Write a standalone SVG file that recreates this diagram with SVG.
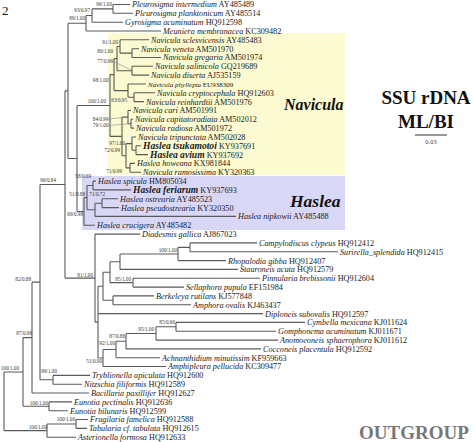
<svg xmlns="http://www.w3.org/2000/svg" width="474" height="442" viewBox="0 0 474 442">
<style>
text{font-family:"Liberation Serif","Times New Roman",serif;fill:#1a1a1a}
.t{font-size:8.2px}
.i{font-style:italic}
.b{font-weight:bold;font-style:italic;font-size:9.6px}
.s{font-size:5.2px;text-anchor:end;fill:#333}
.br{fill:none;stroke:#5a5a5a;stroke-width:1.1}
.ld{fill:none;stroke:#8a8a8a;stroke-width:0.6}
.big{font-weight:bold;font-size:19px;text-anchor:middle;fill:#111}
.clade{font-weight:bold;font-style:italic;fill:#111}
</style>
<rect width="474" height="442" fill="#fff"/>
<rect id="box-navicula" x="108" y="33" width="237" height="142" fill="#FCFAD0"/>
<rect id="box-haslea" x="82" y="176" width="263" height="54" fill="#D9D7F6"/>

<g id="connectors" class="br">
<path d="M4 371.95V430.6M4 371.95H23M4 430.6H47"/>
<path d="M23 337.6V406.3M23 337.6H32M23 406.3H49"/>
<path d="M32 282.15V393M32 282.15H40M32 393H89"/>
<path d="M40 184.5V379.8M40 184.5H65M40 379.8H53"/>
<path d="M53 375.4V384.2M53 375.4H90M53 384.2H82"/>
<path d="M49 401.9V410.7M49 401.9H72M49 410.7H68"/>
<path d="M47 423.95V437.2M47 423.95H76M47 437.2H76"/>
<path d="M76 419.5V428.4M76 419.5H88M76 428.4H87"/>
<path d="M65 90.9V278.1M65 90.9H68M65 278.1H95"/>
<path d="M68 23.3V158.5M68 23.3H86M68 158.5H77"/>
<path d="M86 15.55V31M86 15.55H92M86 31H161"/>
<path d="M92 8.9V22.2M92 8.9H113M92 22.2H123"/>
<path d="M113 4.5V13.3M113 4.5H130M113 13.3H133"/>
<path d="M77 105.5V211.5M77 105.5H110M77 211.5H84"/>
<path d="M110 74.6V136.4M110 74.6H114M110 136.4H122"/>
<path d="M114 58.6V90.6M114 58.6H117M114 90.6H128"/>
<path d="M117 46.45V70.7M117 46.45H120M117 70.7H132"/>
<path d="M120 39.8V53.1M120 39.8H149M120 53.1H132"/>
<path d="M132 48.7V57.5M132 48.7H139M132 57.5H161"/>
<path d="M132 66.3V75.1M132 66.3H153M132 75.1H149"/>
<path d="M128 84V97.2M128 84H146M128 97.2H134"/>
<path d="M134 92.8V101.6M134 92.8H155M134 101.6H144"/>
<path d="M122 117.1V155.7M122 117.1H128M122 155.7H126"/>
<path d="M128 110.5V123.7M128 110.5H131M128 123.7H131"/>
<path d="M131 119.3V128.1M131 119.3H133M131 128.1H134"/>
<path d="M126 143.6V167.85M126 143.6H132M126 167.85H130"/>
<path d="M132 137V150.2M132 137H136M132 150.2H136"/>
<path d="M136 145.8V154.6M136 145.8H141M136 154.6H148"/>
<path d="M130 163.4V172.3M130 163.4H135M130 172.3H141"/>
<path d="M84 197.65V225.3M84 197.65H87M84 225.3H95"/>
<path d="M87 185.5V209.8M87 185.5H93M87 209.8H95"/>
<path d="M93 181.1V189.9M93 181.1H96M93 189.9H131"/>
<path d="M95 203.2V216.4M95 203.2H102M95 216.4H236"/>
<path d="M102 198.8V207.6M102 198.8H118M102 207.6H119"/>
<path d="M95 234.1V322.1M95 234.1H140M95 322.1H98"/>
<path d="M98 286.25V358M98 286.25H103M98 313.6H263M98 358H103"/>
<path d="M103 272.2V300.3M103 272.2H110M103 300.3H113"/>
<path d="M110 261.7V282.65M110 261.7H120M110 282.65H133"/>
<path d="M120 254V269.4M120 254H178M120 269.4H238"/>
<path d="M178 247.35V260.6M178 247.35H190M178 260.6H226"/>
<path d="M190 242.9V251.8M190 242.9H257M190 251.8H338"/>
<path d="M133 278.2V287.1M133 278.2H260M133 287.1H184"/>
<path d="M113 295.9V304.7M113 295.9H154M113 304.7H191"/>
<path d="M103 349.45V366.5M103 349.45H116M103 366.5H166"/>
<path d="M116 341.2V357.7M116 341.2H126M116 357.7H160"/>
<path d="M126 333.45V348.9M126 333.45H156M126 348.9H261"/>
<path d="M156 326.8V340.1M156 326.8H176M156 340.1H278"/>
<path d="M176 322.4V331.2M176 322.4H305M176 331.2H276"/>
<path class="ld" d="M113.5 61.5L131.5 70.2M109 119L127.5 117.1M109 125.5L130.5 123.7"/>
</g>

<g id="support">
<text class="s" x="112" y="5.8">96/1.00</text>
<text class="s" x="90" y="11.5">93/0.97</text>
<text class="s" x="85" y="20">89/1.00</text>
<text class="s" x="118" y="44">91/1.00</text>
<text class="s" x="113" y="53">80/1.00</text>
<text class="s" x="113" y="63">77/0.99</text>
<text class="s" x="108.5" y="82">98/1.00</text>
<text class="s" x="106" y="103">100/1.00</text>
<text class="s" x="127" y="101.8">63/0.95</text>
<text class="s" x="108.5" y="120.5">84/0.99</text>
<text class="s" x="108.5" y="127">79/1.00</text>
<text class="s" x="125" y="145">97/1.00</text>
<text class="s" x="120" y="152">72/0.99</text>
<text class="s" x="122" y="173">71/0.99</text>
<text class="s" x="91" y="178">58/0.69</text>
<text class="s" x="56" y="182">96/0.84</text>
<text class="s" x="85" y="196">51/0.88</text>
<text class="s" x="105" y="196">71/0.72</text>
<text class="s" x="83" y="216">69/0.98</text>
<text class="s" x="93" y="277">81/1.00</text>
<text class="s" x="177" y="252">100/1.00</text>
<text class="s" x="131" y="281">85/1.00</text>
<text class="s" x="31" y="281">82/0.88</text>
<text class="s" x="175" y="324">85/0.90</text>
<text class="s" x="154" y="331">95/1.00</text>
<text class="s" x="125" y="338">87/0.86</text>
<text class="s" x="115" y="345">92/1.00</text>
<text class="s" x="102" y="363">51/0.90</text>
<text class="s" x="32" y="335">87/0.98</text>
<text class="s" x="19" y="370">100/1.00</text>
<text class="s" x="57" y="373">96/1.00</text>
<text class="s" x="48" y="405">100/1.00</text>
<text class="s" x="75" y="421">100/1.00</text>
<text class="s" x="47" y="429">100/1.00</text>
</g>

<g id="taxa" class="t">
<g id="t1"><text x="132" y="7.4"><tspan class="i">Pleurosigma intermedium</tspan> AY485489</text></g>
<g id="t2"><text x="135" y="16.2"><tspan class="i">Pleurosigma planktonicum</tspan> AY485514</text></g>
<g id="t3"><text x="125" y="25.1"><tspan class="i">Gyrosigma acuminatum</tspan> HQ912598</text></g>
<g id="t4"><text x="163" y="33.9"><tspan class="i">Meuniera membranacea</tspan> KC309482</text></g>
<g id="t5"><text x="151" y="42.7"><tspan class="i">Navicula sclesvicensis</tspan> AY485483</text></g>
<g id="t6"><text x="141" y="51.6"><tspan class="i">Navicula veneta</tspan> AM501970</text></g>
<g id="t7"><text x="163" y="60.4"><tspan class="i">Navicula gregaria</tspan> AM501974</text></g>
<g id="t8"><text x="155" y="69.2"><tspan class="i">Navicula salinicola</tspan> GQ219689</text></g>
<g id="t9"><text x="151" y="78"><tspan class="i">Navicula diserta</tspan> AJ535159</text></g>
<g id="t10"><text x="148" y="86.5" style="font-size:7px"><tspan class="i">Navicula phyllepta</tspan> EU938309</text></g>
<g id="t11"><text x="157" y="95.7"><tspan class="i">Navicula cryptocephala</tspan> HQ912603</text></g>
<g id="t12"><text x="146" y="104.5"><tspan class="i">Navicula reinhardtii</tspan> AM501976</text></g>
<g id="t13"><text x="133" y="113.4"><tspan class="i">Navicula cari</tspan> AM501991</text></g>
<g id="t14"><text x="135" y="122.2"><tspan class="i">Navicula capitatoradiata</tspan> AM502012</text></g>
<g id="t15"><text x="136" y="131"><tspan class="i">Navicula radiosa</tspan> AM501972</text></g>
<g id="t16"><text x="138" y="139.9"><tspan class="i">Navicula tripunctata</tspan> AM502028</text></g>
<g id="t17"><text x="143" y="149"><tspan class="b">Haslea tsukamotoi</tspan> KY937691</text></g>
<g id="t18"><text x="150" y="157.9"><tspan class="b">Haslea avium</tspan> KY937692</text></g>
<g id="t19"><text x="137" y="166.3"><tspan class="i">Haslea howeana</tspan> KX981844</text></g>
<g id="t20"><text x="143" y="175.2"><tspan class="i">Navicula ramosissima</tspan> KY320363</text></g>
<g id="t21"><text x="98" y="184"><tspan class="i">Haslea spicula</tspan> HM805034</text></g>
<g id="t22"><text x="133" y="193.1"><tspan class="b">Haslea feriarum</tspan> KY937693</text></g>
<g id="t23"><text x="120" y="201.7"><tspan class="i">Haslea ostrearia</tspan> AY485523</text></g>
<g id="t24"><text x="121" y="210.5"><tspan class="i">Haslea pseudostrearia</tspan> KY320350</text></g>
<g id="t25"><text x="238" y="219.3"><tspan class="i">Haslea nipkowii</tspan> AY485488</text></g>
<g id="t26"><text x="97" y="228.2"><tspan class="i">Haslea crucigera</tspan> AY485482</text></g>
<g id="t27"><text x="142" y="237"><tspan class="i">Diadesmis gallica</tspan> AJ867023</text></g>
<g id="t28"><text x="259" y="245.8"><tspan class="i">Campylodiscus clypeus</tspan> HQ912412</text></g>
<g id="t29"><text x="340" y="254.7"><tspan class="i">Surirella_splendida</tspan> HQ912415</text></g>
<g id="t30"><text x="228" y="263.5"><tspan class="i">Rhopalodia gibba</tspan> HQ912407</text></g>
<g id="t31"><text x="240" y="272.3"><tspan class="i">Stauroneis acuta</tspan> HQ912579</text></g>
<g id="t32"><text x="262" y="281.1"><tspan class="i">Pinnularia brebissonii</tspan> HQ912604</text></g>
<g id="t33"><text x="186" y="290"><tspan class="i">Sellaphora pupula</tspan> EF151984</text></g>
<g id="t34"><text x="156" y="298.8"><tspan class="i">Berkeleya rutilans</tspan> KJ577848</text></g>
<g id="t35"><text x="193" y="307.6"><tspan class="i">Amphora ovalis</tspan> KJ463437</text></g>
<g id="t36"><text x="265" y="316.5"><tspan class="i">Diploneis subovalis</tspan> HQ912597</text></g>
<g id="t37"><text x="307" y="325.3"><tspan class="i">Cymbella mexicana</tspan> KJ011624</text></g>
<g id="t38"><text x="278" y="334.1"><tspan class="i">Gomphonema acuminatum</tspan> KJ011671</text></g>
<g id="t39"><text x="280" y="343"><tspan class="i">Anomoeoneis sphaerophora</tspan> KJ011612</text></g>
<g id="t40"><text x="263" y="351.8"><tspan class="i">Cocconeis placentula</tspan> HQ912592</text></g>
<g id="t41"><text x="162" y="360.6"><tspan class="i">Achnanthidium minutissim</tspan> KF959663</text></g>
<g id="t42"><text x="168" y="369.4"><tspan class="i">Amphipleura pellucida</tspan> KC309477</text></g>
<g id="t43"><text x="92" y="378.3"><tspan class="i">Tryblionella apiculata</tspan> HQ912600</text></g>
<g id="t44"><text x="84" y="387.1"><tspan class="i">Nitzschia filiformis</tspan> HQ912589</text></g>
<g id="t45"><text x="91" y="395.9"><tspan class="i">Bacillaria paxillifer</tspan> HQ912627</text></g>
<g id="t46"><text x="74" y="404.8"><tspan class="i">Eunotia pectinalis</tspan> HQ912636</text></g>
<g id="t47"><text x="70" y="413.6"><tspan class="i">Eunotia bilunaris</tspan> HQ912599</text></g>
<g id="t48"><text x="90" y="422.4"><tspan class="i">Fragilaria famelica</tspan> HQ912588</text></g>
<g id="t49"><text x="89" y="431.3"><tspan class="i">Tabularia cf. tabulata</tspan> HQ912615</text></g>
<g id="t50"><text x="78" y="440.1"><tspan class="i">Asterionella formosa</tspan> HQ912633</text></g>
</g>

<g id="annotations">
<text x="2" y="15" style="font-size:13px">2</text>
<text class="clade" x="284" y="110" style="font-size:16px">Navicula</text>
<text class="clade" x="290" y="207" style="font-size:17.5px">Haslea</text>
<text class="big" x="426" y="104">SSU rDNA</text>
<text class="big" x="426" y="128">ML/BI</text>
<path d="M415 135H447" stroke="#555" stroke-width="1.2"/>
<text x="431" y="144" style="font-size:6.5px;text-anchor:middle;fill:#444">0.03</text>
<text x="359" y="439" style="font-size:19px;font-weight:bold;fill:#777">OUTGROUP</text>
</g>
</svg>
